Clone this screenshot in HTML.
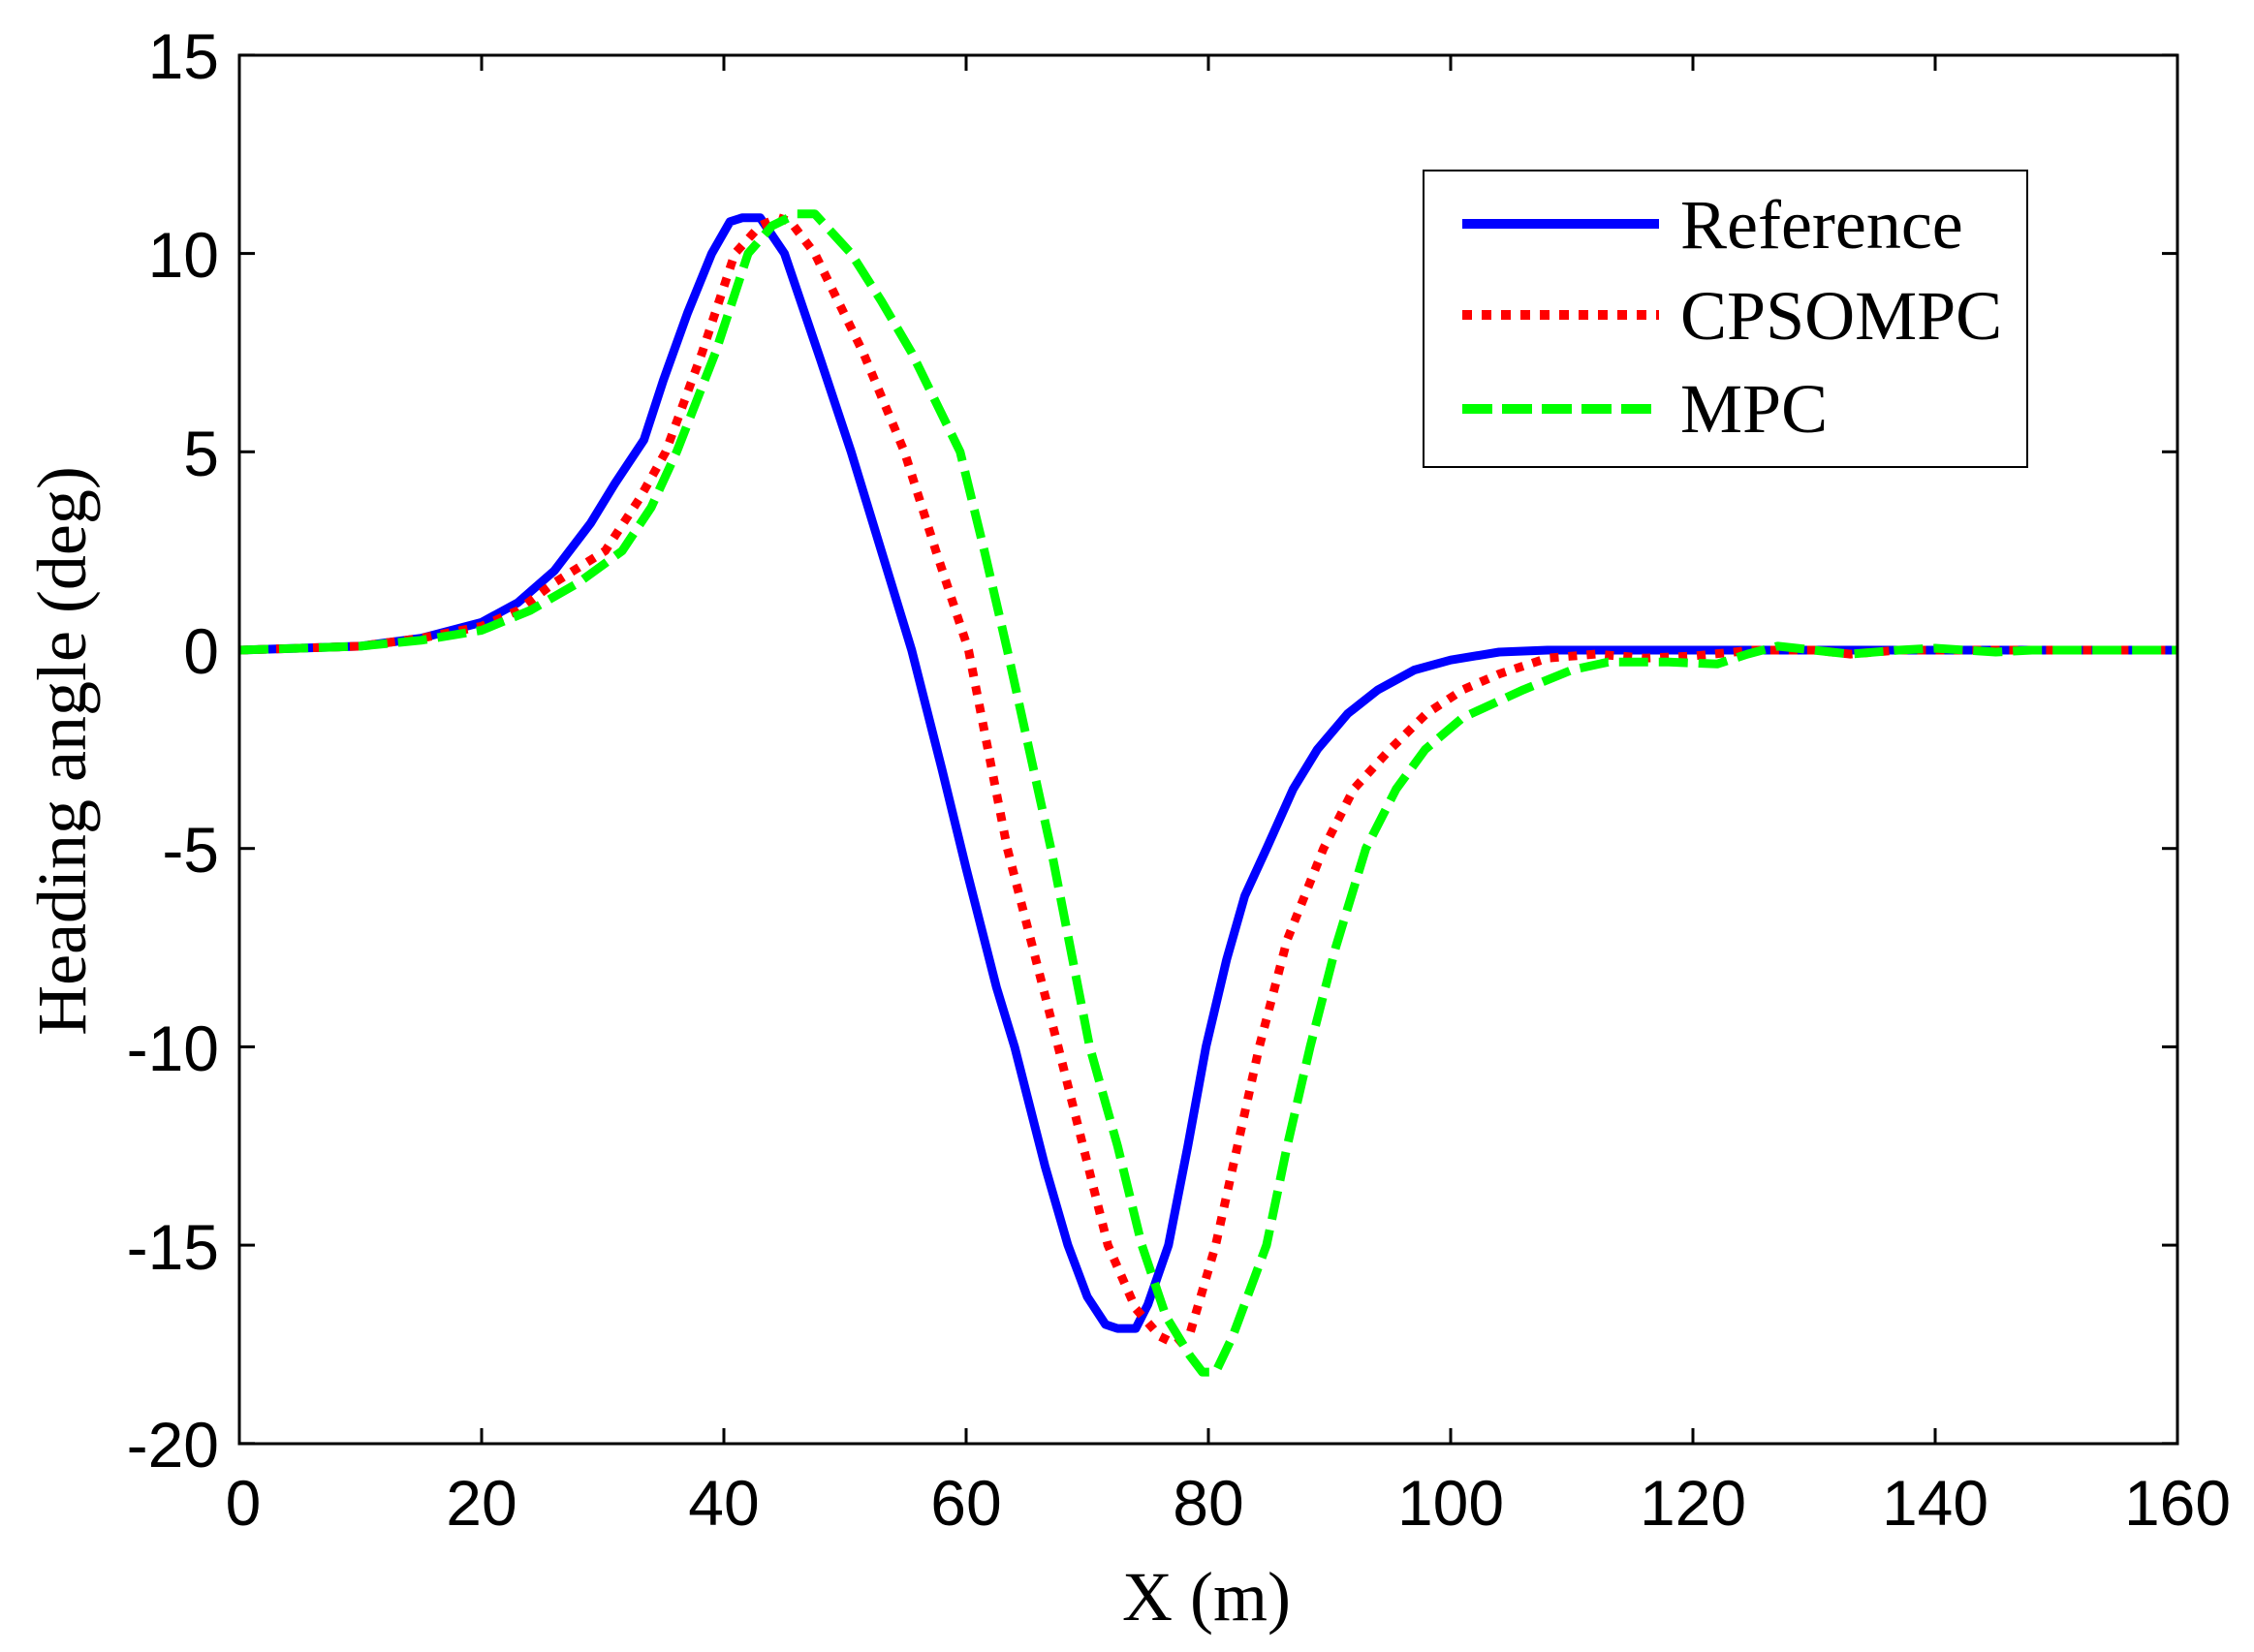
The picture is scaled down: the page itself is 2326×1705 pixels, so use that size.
<!DOCTYPE html>
<html><head><meta charset="utf-8"><style>
html,body{margin:0;padding:0;background:#fff;}
svg{display:block;}
.t{font-family:"Liberation Sans",Arial,sans-serif;font-size:66px;fill:#000;}
.s{font-family:"Liberation Serif","Times New Roman",serif;font-size:72px;fill:#000;}
</style></head><body>
<svg id="c" width="2326" height="1705" viewBox="0 0 2326 1705" xmlns="http://www.w3.org/2000/svg">
<rect width="2326" height="1705" fill="#fff"/>
<g id="ticks" stroke="#000" stroke-width="3"></g>
<g id="series" fill="none" stroke-linejoin="round"></g>
<rect x="247" y="57" width="2000" height="1433" fill="none" stroke="#000" stroke-width="3"/>
<g class="t" text-anchor="end">
<text x="226" y="81">15</text>
<text x="226" y="286">10</text>
<text x="226" y="491">5</text>
<text x="226" y="695">0</text>
<text x="226" y="900">-5</text>
<text x="226" y="1105">-10</text>
<text x="226" y="1310">-15</text>
<text x="226" y="1514">-20</text>
</g>
<g class="t" text-anchor="middle">
<text x="251" y="1574">0</text>
<text x="497" y="1574">20</text>
<text x="747" y="1574">40</text>
<text x="997" y="1574">60</text>
<text x="1247" y="1574">80</text>
<text x="1497" y="1574">100</text>
<text x="1747" y="1574">120</text>
<text x="1997" y="1574">140</text>
<text x="2247" y="1574">160</text>
</g>
<text class="s" x="1245" y="1672" text-anchor="middle">X (m)</text>
<text class="s" transform="translate(88,775) rotate(-90)" text-anchor="middle">Heading angle (deg)</text>
<rect x="1469" y="176" width="623" height="306" fill="#fff" stroke="#000" stroke-width="2"/>
<line x1="1509" y1="231" x2="1712" y2="231" stroke="#0000ff" stroke-width="10"/>
<line x1="1509" y1="325" x2="1712" y2="325" stroke="#ff0000" stroke-width="10" stroke-dasharray="10 10"/>
<line x1="1509" y1="422" x2="1712" y2="422" stroke="#00ff00" stroke-width="10" stroke-dasharray="31 10"/>
<text class="s" x="1734" y="256">Reference</text>
<text class="s" x="1734" y="350">CPSOMPC</text>
<text class="s" x="1734" y="446">MPC</text>
</svg>
<script>
var X=function(x){return 247+x*12.5;},Y=function(y){return 671-40.94*y;};
var ns="http://www.w3.org/2000/svg";
var tk=document.getElementById('ticks');
function ln(x1,y1,x2,y2){var l=document.createElementNS(ns,'line');l.setAttribute('x1',x1);l.setAttribute('y1',y1);l.setAttribute('x2',x2);l.setAttribute('y2',y2);tk.appendChild(l);}
for(var v=-20;v<=15;v+=5){var y=Y(v);ln(247,y,263,y);ln(2231,y,2247,y);}
for(var v=0;v<=160;v+=20){var x=X(v);ln(x,1490,x,1474);ln(x,57,x,73);}
var blue=[[0,0],[5,0.05],[10,0.1],[15,0.3],[20,0.7],[23,1.2],[26,2],[29,3.2],[31,4.2],[33.4,5.3],[35,6.8],[37,8.5],[39,10],[40.5,10.8],[41.5,10.9],[43,10.9],[45,10],[48,7.3],[50.5,5],[53,2.5],[55.5,0],[58,-3],[60,-5.5],[62.5,-8.5],[64,-10],[66.5,-13],[68.4,-15],[70,-16.3],[71.5,-17],[72.5,-17.1],[74,-17.1],[75,-16.5],[76.7,-15],[78.3,-12.5],[79.8,-10],[81.5,-7.8],[83,-6.2],[84.8,-5],[87,-3.5],[89,-2.5],[91.5,-1.6],[94,-1],[97,-0.5],[100,-0.25],[104,-0.05],[108,0],[160,0]];
var red=[[0,0],[5,0.05],[10,0.1],[15,0.3],[20,0.6],[23,1],[26,1.7],[30.2,2.5],[33,3.8],[35.2,5],[38.2,7.5],[40.9,10],[43,10.7],[44.5,10.9],[45.5,10.8],[47.5,10],[51.5,7.5],[54.9,5],[57.5,2.5],[60.2,0],[63.4,-5],[67.6,-10],[71.7,-15],[74,-16.6],[76,-17.3],[77.3,-17.5],[78.5,-17.2],[80.6,-15],[82.4,-12.5],[84.2,-10],[86.5,-7.3],[89.5,-5],[92,-3.5],[95,-2.5],[98,-1.6],[101,-1],[104,-0.6],[108,-0.2],[112,-0.1],[116,-0.2],[120,-0.15],[125,0],[130,0],[133,-0.1],[137,0],[160,0]];
var green=[[0,0],[5,0.05],[10,0.1],[15,0.25],[20,0.5],[24,1],[28,1.7],[31.6,2.5],[34,3.6],[36.1,5],[39.3,7.5],[42,10],[44,10.7],[46,11],[47.5,11],[49,10.5],[50.5,10],[53,8.8],[55.5,7.5],[59.5,5],[61.5,2.5],[63.4,0],[67,-5],[70.2,-10],[72.5,-12.5],[74.5,-15],[76.5,-16.8],[78.5,-17.8],[79.5,-18.2],[80.6,-18.2],[82,-17.3],[84.8,-15],[86.5,-12.5],[88.4,-10],[90.5,-7.5],[93,-5],[95.5,-3.5],[97.9,-2.5],[101,-1.7],[106,-1],[110,-0.5],[113,-0.3],[118,-0.3],[122,-0.35],[124.5,-0.1],[127,0.1],[130,0],[133,-0.1],[137,0],[140,0.05],[145,-0.05],[148,0],[160,0]];
var g=document.getElementById('series');
function pl(d,col,dash){var p=document.createElementNS(ns,'polyline');p.setAttribute('points',d.map(function(a){return X(a[0]).toFixed(1)+','+Y(a[1]).toFixed(1);}).join(' '));p.setAttribute('stroke',col);p.setAttribute('stroke-width','9');if(dash)p.setAttribute('stroke-dasharray',dash);g.appendChild(p);}
pl(blue,'#0000ff');pl(red,'#ff0000','9 10');pl(green,'#00ff00','30 11');
</script>
</body></html>
